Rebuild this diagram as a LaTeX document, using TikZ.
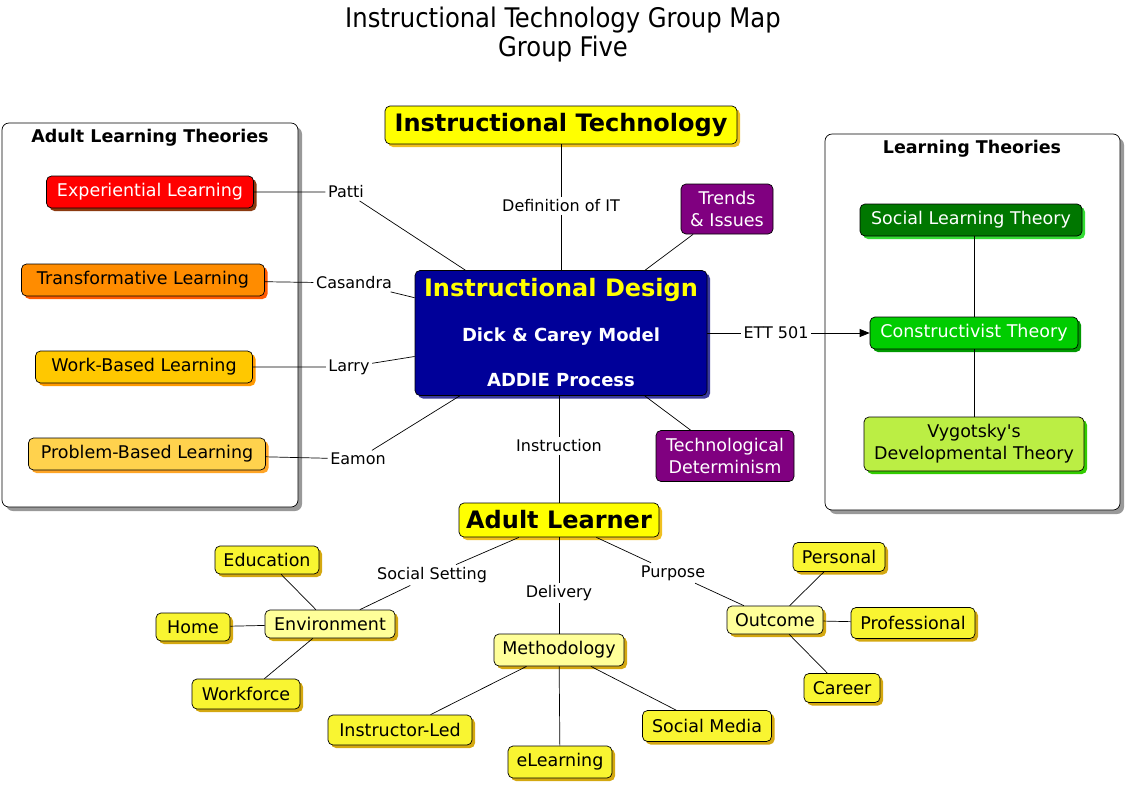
\documentclass[tikz,border=0pt]{standalone}
\usepackage{fontspec}
\setmainfont{DejaVu Sans}
\newfontfamily\titlefont{DejaVu Sans Condensed}
\usetikzlibrary{shadows,arrows.meta}

% Colores
\definecolor{expred}{HTML}{FF0000}
\definecolor{expshadow}{HTML}{8B3A10}
\definecolor{transorange}{HTML}{FF8C00}
\definecolor{transshadow}{HTML}{FF5A00}
\definecolor{workgold}{HTML}{FFC800}
\definecolor{workshadow}{HTML}{FF9A00}
\definecolor{probgold}{HTML}{FFD24D}
\definecolor{probshadow}{HTML}{FFA526}
\definecolor{idnavy}{HTML}{000099}
\definecolor{idshadow}{HTML}{3A3A9E}
\definecolor{idyellow}{HTML}{FFFF00}
\definecolor{trendpurple}{HTML}{800080}
\definecolor{socgreen}{HTML}{007700}
\definecolor{socshadow}{HTML}{33DD33}
\definecolor{congreen}{HTML}{00CC00}
\definecolor{conshadow}{HTML}{009900}
\definecolor{vyglime}{HTML}{BBEE44}
\definecolor{vygshadow}{HTML}{33CC00}
\definecolor{headyellow}{HTML}{FFFF00}
\definecolor{headshadow}{HTML}{F0C020}
\definecolor{leafyellow}{HTML}{F9F531}
\definecolor{leafshadow}{HTML}{D4A810}
\definecolor{midyellow}{HTML}{FFFF99}

\tikzset{
  box/.style={draw=black, line width=0.7pt, rounded corners=5pt, inner sep=0pt,
              align=center, font=\fontsize{17.5}{22}\selectfont},
  drop/.style={drop shadow={shadow xshift=3pt, shadow yshift=-3pt, fill=#1, opacity=1}},
  leaf/.style={box, fill=leafyellow, drop=leafshadow},
  mid/.style={box, fill=midyellow, drop=leafshadow},
  head/.style={box, fill=headyellow, drop=headshadow, font=\bfseries\fontsize{24}{28}\selectfont},
  tag/.style={inner sep=2.5pt, font=\fontsize{16}{18}\selectfont},
  link/.style={line width=0.7pt},
  panel/.style={draw=black, line width=0.7pt, rounded corners=7pt, fill=white,
                drop shadow={shadow xshift=4pt, shadow yshift=-4pt, fill=black!40, opacity=1}},
  paneltitle/.style={font=\bfseries\fontsize{17.5}{20}\selectfont}
}

\begin{document}
\begin{tikzpicture}[x=1pt,y=-1pt]
  \useasboundingbox (0,0) rectangle (1126,785);
  % Titulo
  \node[font=\titlefont\fontsize{27}{29}\selectfont, align=center] (title) at (563,35)
       {Instructional Technology Group Map\\Group Five};

  % Paneles
  \node[panel, minimum width=296pt, minimum height=384pt] (adultpanel) at (150,315) {};
  \node[paneltitle] (adulttitle) at (150,138) {Adult Learning Theories};
  \node[panel, minimum width=295pt, minimum height=376pt] (learnpanel) at (972.5,322) {};
  \node[paneltitle] (learntitle) at (972,149) {Learning Theories};

  % Teorias del adulto
  \node[box, fill=expred, text=white, drop=expshadow, minimum width=207pt, minimum height=32pt] (exp) at (150,192) {Experiential Learning};
  \node[box, fill=transorange, drop=transshadow, minimum width=243pt, minimum height=32pt] (trans) at (143,280) {Transformative Learning};
  \node[box, fill=workgold, drop=workshadow, minimum width=217pt, minimum height=32pt] (work) at (144,367) {Work-Based Learning};
  \node[box, fill=probgold, drop=probshadow, minimum width=237pt, minimum height=32pt] (prob) at (147,454) {Problem-Based Learning};

  % Nodos centrales
  \node[head, minimum width=352pt, minimum height=38pt] (itech) at (561,125) {Instructional Technology};
  \node[box, fill=idnavy, text=white, drop=idshadow, minimum width=292pt, minimum height=125pt,
        font=\bfseries\fontsize{18}{45}\selectfont] (idesign) at (561,333)
       {{\color{idyellow}\fontsize{24}{45}\selectfont Instructional Design}\\Dick \& Carey Model\\ADDIE Process};
  \node[box, fill=trendpurple, text=white, minimum width=92pt, minimum height=50pt] (trends) at (727,209) {Trends\\\& Issues};
  \node[box, fill=trendpurple, text=white, minimum width=138pt, minimum height=51pt] (techdet) at (725,456) {Technological\\Determinism};
  \node[head, minimum width=200pt, minimum height=34pt] (adult) at (559,520) {Adult Learner};

  % Teorias del aprendizaje
  \node[box, fill=socgreen, text=white, drop=socshadow, minimum width=222pt, minimum height=32pt] (social) at (971,220) {Social Learning Theory};
  \node[box, fill=congreen, text=white, drop=conshadow, minimum width=208pt, minimum height=32pt] (constr) at (974,333) {Constructivist Theory};
  \node[box, fill=vyglime, drop=vygshadow, minimum width=220pt, minimum height=54pt] (vygot) at (974,444) {Vygotsky\textquotesingle s\\Developmental Theory};

  % Ramas del adulto
  \node[mid, minimum width=130pt, minimum height=28pt] (env) at (330,624) {Environment};
  \node[leaf, minimum width=104pt, minimum height=28pt] (edu) at (267,560) {Education};
  \node[leaf, minimum width=74pt, minimum height=28pt] (home) at (193,627) {Home};
  \node[leaf, minimum width=108pt, minimum height=30pt] (workf) at (246,694) {Workforce};
  \node[mid, minimum width=130pt, minimum height=32pt] (meth) at (559,650) {Methodology};
  \node[leaf, minimum width=144pt, minimum height=30pt] (instr) at (400,730) {Instructor-Led};
  \node[leaf, minimum width=104pt, minimum height=32pt] (elearn) at (560,762) {eLearning};
  \node[leaf, minimum width=129pt, minimum height=31pt] (smedia) at (707,726) {Social Media};
  \node[mid, minimum width=96pt, minimum height=28pt] (outcome) at (775,620) {Outcome};
  \node[leaf, minimum width=92pt, minimum height=29pt] (personal) at (839,557) {Personal};
  \node[leaf, minimum width=124pt, minimum height=31pt] (profes) at (913,623) {Professional};
  \node[leaf, minimum width=76pt, minimum height=29pt] (career) at (842,688) {Career};

  % Etiquetas
  \node[tag] (patti) at (346,192) {Patti};
  \node[tag] (casandra) at (354,283) {Casandra};
  \node[tag] (larry) at (349,367) {Larry};
  \node[tag] (eamon) at (358,459) {Eamon};
  \node[tag] (defit) at (561,206) {Definition of IT};
  \node[tag] (ett) at (776,333) {ETT 501};
  \node[tag] (instruct) at (559,446) {Instruction};
  \node[tag] (socset) at (432,575) {Social Setting};
  \node[tag] (delivery) at (559,593) {Delivery};
  \node[tag] (purpose) at (673,573) {Purpose};

  % Conectores
  \draw[link] (exp) -- (patti) -- (idesign);
  \draw[link] (trans) -- (casandra) -- (idesign);
  \draw[link] (work) -- (larry) -- (idesign);
  \draw[link] (prob) -- (eamon) -- (idesign);
  \draw[link] (itech) -- (defit) -- (idesign);
  \draw[link] (idesign) -- (trends);
  \draw[link] (idesign) -- (techdet);
  \draw[link] (idesign) -- (ett);
  \draw[link, -{Triangle[length=10pt, width=8pt]}] (ett) -- (constr);
  \draw[link] (constr.north) -- (constr.north |- social.south);
  \draw[link] (constr) -- (vygot);
  \draw[link] (instruct |- idesign.south) -- (instruct) -- (adult);
  \draw[link] (adult) -- (socset) -- (env);
  \draw[link] (adult) -- (delivery) -- (meth);
  \draw[link] (adult) -- (purpose) -- (outcome);
  \draw[link] (env) -- (edu);
  \draw[link] (env) -- (home);
  \draw[link] (env) -- (workf);
  \draw[link] (meth) -- (instr);
  \draw[link] (meth) -- (elearn);
  \draw[link] (meth) -- (smedia);
  \draw[link] (outcome) -- (personal);
  \draw[link] (outcome) -- (profes);
  \draw[link] (outcome) -- (career);
\end{tikzpicture}
\end{document}
